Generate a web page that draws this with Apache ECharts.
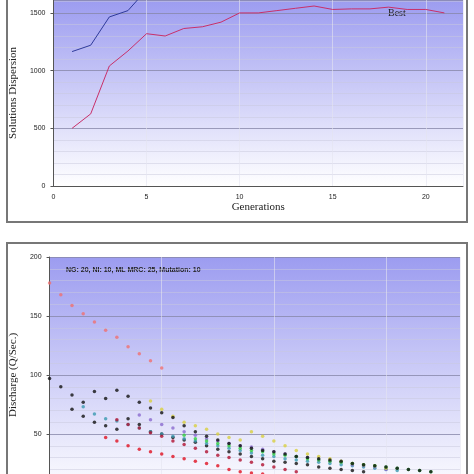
<!DOCTYPE html><html><head><meta charset="utf-8">
<script src="https://cdn.jsdelivr.net/npm/echarts@6/dist/echarts.min.js"></script>
<style>html,body{margin:0;padding:0;background:#fff;overflow:hidden}#c{width:474px;height:520px}</style></head><body><div id="c"></div><script>
const generations=[1,2,3,4,5,6,7,8,9,10,11,12,13,14,15,16,17,18,19,20,21];
const best=[500,625,1040,1170,1320,1300,1365,1380,1420,1500,1500,1520,1540,1560,1530,1535,1535,1550,1530,1530,1500];
const avgGen=[1,2,3,4,5];
const average=[1165,1220,1465,1520,1700];
const pink=[178,168,159,152,145,138,132,124,118,112,106];
const black1=[97,90,83,77,86,80,87,82,77,72,68,64,57,52,48,45,42,40,38,36,35,33,31,30,29,28,27,25,24,23,22,21,20,19,18];
const black2=[71,65,60,57,54,63,58,52,50,47,45,43,40,37,35,33,31,29,27,26,25,24,22,21,20,19,18];
const red=[47,44,40,37,35,33,31,29,27,25,23,20,18,17,16];
const teal=[73,67,63,61,58,55,52,50,48,46,44,42,40,38,36,34,32,31,29,28,27,26,25,24,23,22,21,20,19];
const yellow=[78,71,65,60,57,54,50,47,45,52,48,44,40,36,33,31,29,27,25,24,23,21];
const green=[49,46,44,42,40,38,36,35,33,32,31,29,28,27,26,25,24,23,22,21,20,19,18];
const purple=[66,62,58,55,52,49,46,44,42,40,39,37,35,33,31,30,28,27,26,24,23,22,20];
const darkred=[62,58,55,51,48,44,41,38,35,32,30,28,26,24,22,20,18];
const starts={pink:0,black1:0,black2:2,red:5,teal:3,yellow:9,green:12,purple:8,darkred:6};
const grad={type:'linear',x:0,y:0,x2:0,y2:1,colorStops:[{offset:0,color:'#9c9cf0'},{offset:1,color:'#ffffff'}]};
function pts(arr,s){return arr.map((v,i)=>[s+i,v]);}
function sc(name,arr,color){return {type:'scatter',xAxisIndex:1,yAxisIndex:1,symbolSize:3.5,itemStyle:{color:color},data:pts(arr,starts[name])};}
const lab={fontSize:7,color:'#222',fontFamily:'Liberation Sans',formatter:v=>String(v)};
const nm={fontFamily:'Liberation Serif',fontSize:11,color:'#222'};
const chart=echarts.init(document.getElementById('c'));
chart.setOption({animation:false,
graphic:[{type:'rect',shape:{x:7,y:-5,width:460,height:227},style:{fill:'none',stroke:'#777',lineWidth:2}},
{type:'rect',shape:{x:7,y:243,width:460,height:260},style:{fill:'none',stroke:'#777',lineWidth:2}},
{type:'text',left:66,top:267,style:{text:'NG: 20, NI: 10, ML MRC: 25, Mutation: 10',font:'bold 7px Liberation Sans',fill:'#222'}},
{type:'text',left:388,top:8,style:{text:'Best',font:'10px Liberation Serif',fill:'#222'}}],
grid:[{left:44,top:0,width:419,height:186,show:true,backgroundColor:grad,borderWidth:0},
{left:46,top:257,width:414,height:236,show:true,backgroundColor:grad,borderWidth:0}],
xAxis:[{gridIndex:0,type:'value',min:0,max:22,interval:5,axisLine:{lineStyle:{color:'#555'}},axisTick:{show:false},axisLabel:Object.assign({showMaxLabel:false},lab),splitLine:{lineStyle:{color:'#e4e4f0',width:0.6}},name:'Generations',nameLocation:'middle',nameGap:12,nameTextStyle:nm},
{gridIndex:1,type:'value',min:0,max:36.6,interval:10,axisLine:{show:false},axisTick:{show:false},axisLabel:{show:false},splitLine:{lineStyle:{color:'#e4e4f0',width:0.6}}}],
yAxis:[{gridIndex:0,type:'value',min:0,max:1612,interval:500,axisLine:{show:true,lineStyle:{color:'#555'}},axisTick:{show:true,length:3},axisLabel:Object.assign({showMaxLabel:false},lab),splitLine:{lineStyle:{color:'#8888aa',width:0.8}},minorTick:{show:false,splitNumber:5},minorSplitLine:{show:true,lineStyle:{color:'#c8c8dd',width:0.5}},name:'Solutions Dispersion',nameLocation:'middle',nameGap:22,nameTextStyle:nm},
{gridIndex:1,type:'value',min:0,max:200,interval:50,axisLine:{show:true,lineStyle:{color:'#555'}},axisTick:{show:true,length:3},axisLabel:lab,splitLine:{lineStyle:{color:'#8888aa',width:0.8}},minorTick:{show:false,splitNumber:5},minorSplitLine:{show:true,lineStyle:{color:'#c8c8dd',width:0.5}},name:'Discharge (Q/Sec.)',nameLocation:'middle',nameGap:24,nameTextStyle:nm}],
series:[
{type:'line',xAxisIndex:0,yAxisIndex:0,symbol:'none',lineStyle:{color:'#c8306a',width:1},data:generations.map((g,i)=>[g,best[i]])},
{type:'line',xAxisIndex:0,yAxisIndex:0,symbol:'none',clip:true,lineStyle:{color:'#2e3a9a',width:1},data:avgGen.map((g,i)=>[g,average[i]])},
sc('pink',pink,'#f07070'),sc('black2',black2,'#111'),sc('teal',teal,'#3a9ab0'),sc('purple',purple,'#8a6ad0'),
sc('yellow',yellow,'#d8d040'),sc('green',green,'#30d040'),sc('darkred',darkred,'#b01030'),sc('red',red,'#e01020'),sc('black1',black1,'#111')]});
</script></body></html>
